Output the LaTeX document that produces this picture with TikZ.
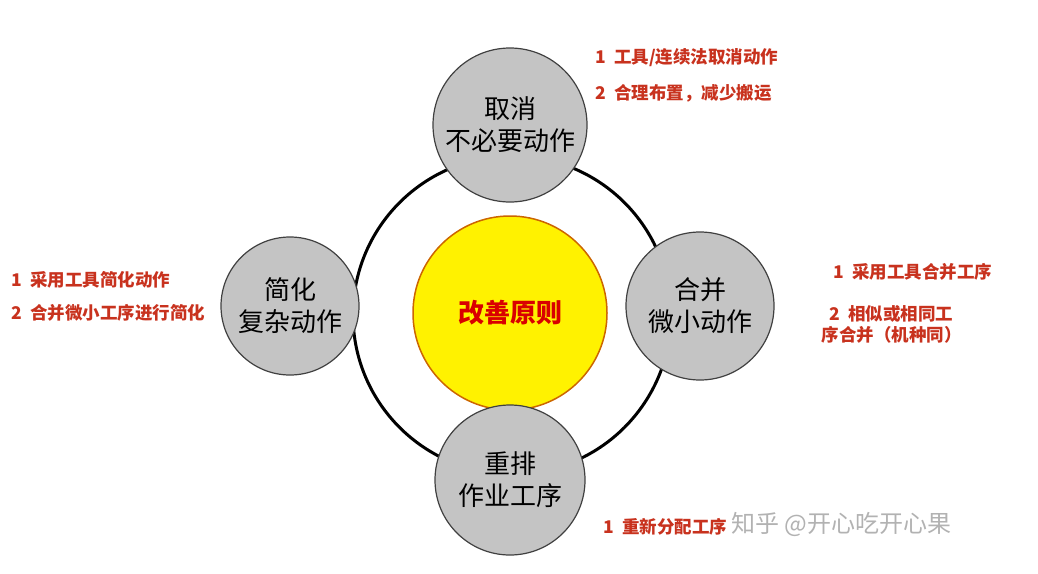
\documentclass[tikz,border=0pt]{standalone}
\usepackage{fontspec}
\newfontfamily\cjk{Noto Sans CJK SC}
\definecolor{lab}{HTML}{C8321E}
\definecolor{gr}{HTML}{C4C4C4}
\begin{document}
\begin{tikzpicture}[x=1pt,y=-1pt,
  sat/.style={circle,draw=black!75,line width=1.2pt,fill=gr,inner sep=0pt,font=\cjk\fontsize{26}{32}\selectfont,align=center},
  lab/.style={anchor=west,text=lab,font=\cjk\bfseries\fontsize{17.5}{21}\selectfont,align=left}]
\useasboundingbox (0,0) rectangle (1038,573);
\node[circle,draw,line width=3pt,minimum size=318pt,inner sep=0pt] (ring) at (512,315) {};
\node[circle,draw=orange!80!black,line width=1.5pt,fill=yellow,minimum size=194pt,inner sep=0pt,text=red!85!black,font=\cjk\bfseries\fontsize{26}{30}\selectfont] (c) at (510,313) {改善原则};
\node[sat,minimum size=154pt] (t) at (510,125) {取消\\不必要动作};
\node[sat,minimum size=138pt] (l) at (290,306) {简化\\复杂动作};
\node[sat,minimum size=148pt] (r) at (700,306) {合并\\微小动作};
\node[sat,minimum size=150pt] (b) at (510,480) {重排\\作业工序};
\node[lab] (t1) at (592,58) {1\ \ 工具/连续法取消动作};
\node[lab] (t2) at (592,93) {2\ \ 合理布置，减少搬运};
\node[lab] (l1) at (8,280) {1\ \ 采用工具简化动作};
\node[lab] (l2) at (8,313) {2\ \ 合并微小工序进行简化};
\node[lab] (r1) at (830,272) {1\ \ 采用工具合并工序};
\node[lab,anchor=north west] (r2) at (818,302) {\ \ 2\ \ 相似或相同工\\序合并（机种同）};
\node[lab] (b1) at (600,527) {1\ \ 重新分配工序};
\node[anchor=west,text=gray!60,font=\cjk\fontsize{24}{28}\selectfont] (wm) at (728,524) {知乎 @开心吃开心果};
\end{tikzpicture}
\end{document}
